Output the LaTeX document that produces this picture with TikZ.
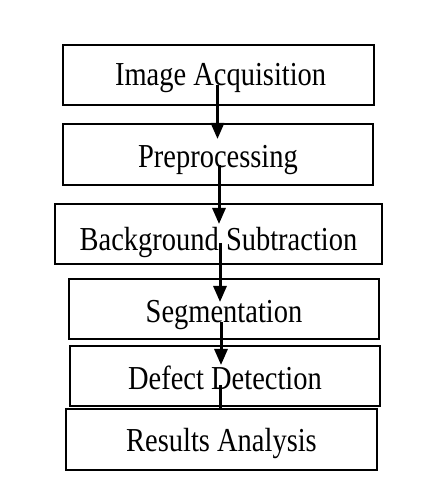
\documentclass[tikz,border=0pt]{standalone}
\usepackage{fontspec}
\setmainfont{Liberation Serif}
\usetikzlibrary{arrows.meta}
\newcommand{\boxlbl}[1]{\scalebox{0.85}[1]{\fontsize{33.5}{36}\selectfont #1}}
\begin{document}
\begin{tikzpicture}[x=1pt,y=1pt,
  stagebox/.style={draw=black, line width=1.6pt, inner sep=0pt, fill=none, text depth=0pt},
  flowarrow/.style={line width=3pt, -{Triangle[length=16pt,width=13pt]}},
  flowline/.style={line width=3pt}]
\useasboundingbox (0,0) rectangle (447,495);
\fill[white] (0,0) rectangle (447,495);
\node[stagebox, minimum width=311pt, minimum height=60pt, text height=21pt] (b1) at (218.5,420) {\boxlbl{\hspace*{5pt}Image Acquisition}};
\node[stagebox, minimum width=310pt, minimum height=61pt, text height=27pt] (b2) at (218,340.5) {\boxlbl{Preprocessing}};
\node[stagebox, minimum width=327pt, minimum height=60pt, text height=33pt] (b3) at (218.5,261) {\boxlbl{Background Subtraction}};
\node[stagebox, minimum width=310pt, minimum height=60pt, text height=28pt] (b4) at (224,186) {\boxlbl{Segmentation}};
\node[stagebox, minimum width=310pt, minimum height=60pt, text height=28pt] (b5) at (225,119) {\boxlbl{Defect Detection}};
\node[stagebox, minimum width=311pt, minimum height=61pt, text height=24pt] (b6) at (221.5,55.5) {\boxlbl{Results Analysis}};
\coordinate (s1) at (217.5,410); \coordinate (e1) at (217.5,356);
\coordinate (s2) at (219,330);   \coordinate (e2) at (219,271);
\coordinate (s3) at (220,252);   \coordinate (e3) at (220,193);
\coordinate (s4) at (221,173);   \coordinate (e4) at (221,130);
\coordinate (s5) at (220,110);   \coordinate (e5) at (220,85);
\draw[flowarrow] (s1) -- (e1);
\draw[flowarrow] (s2) -- (e2);
\draw[flowarrow] (s3) -- (e3);
\draw[flowarrow] (s4) -- (e4);
\draw[flowline] (s5) -- (e5);
\end{tikzpicture}
\end{document}
